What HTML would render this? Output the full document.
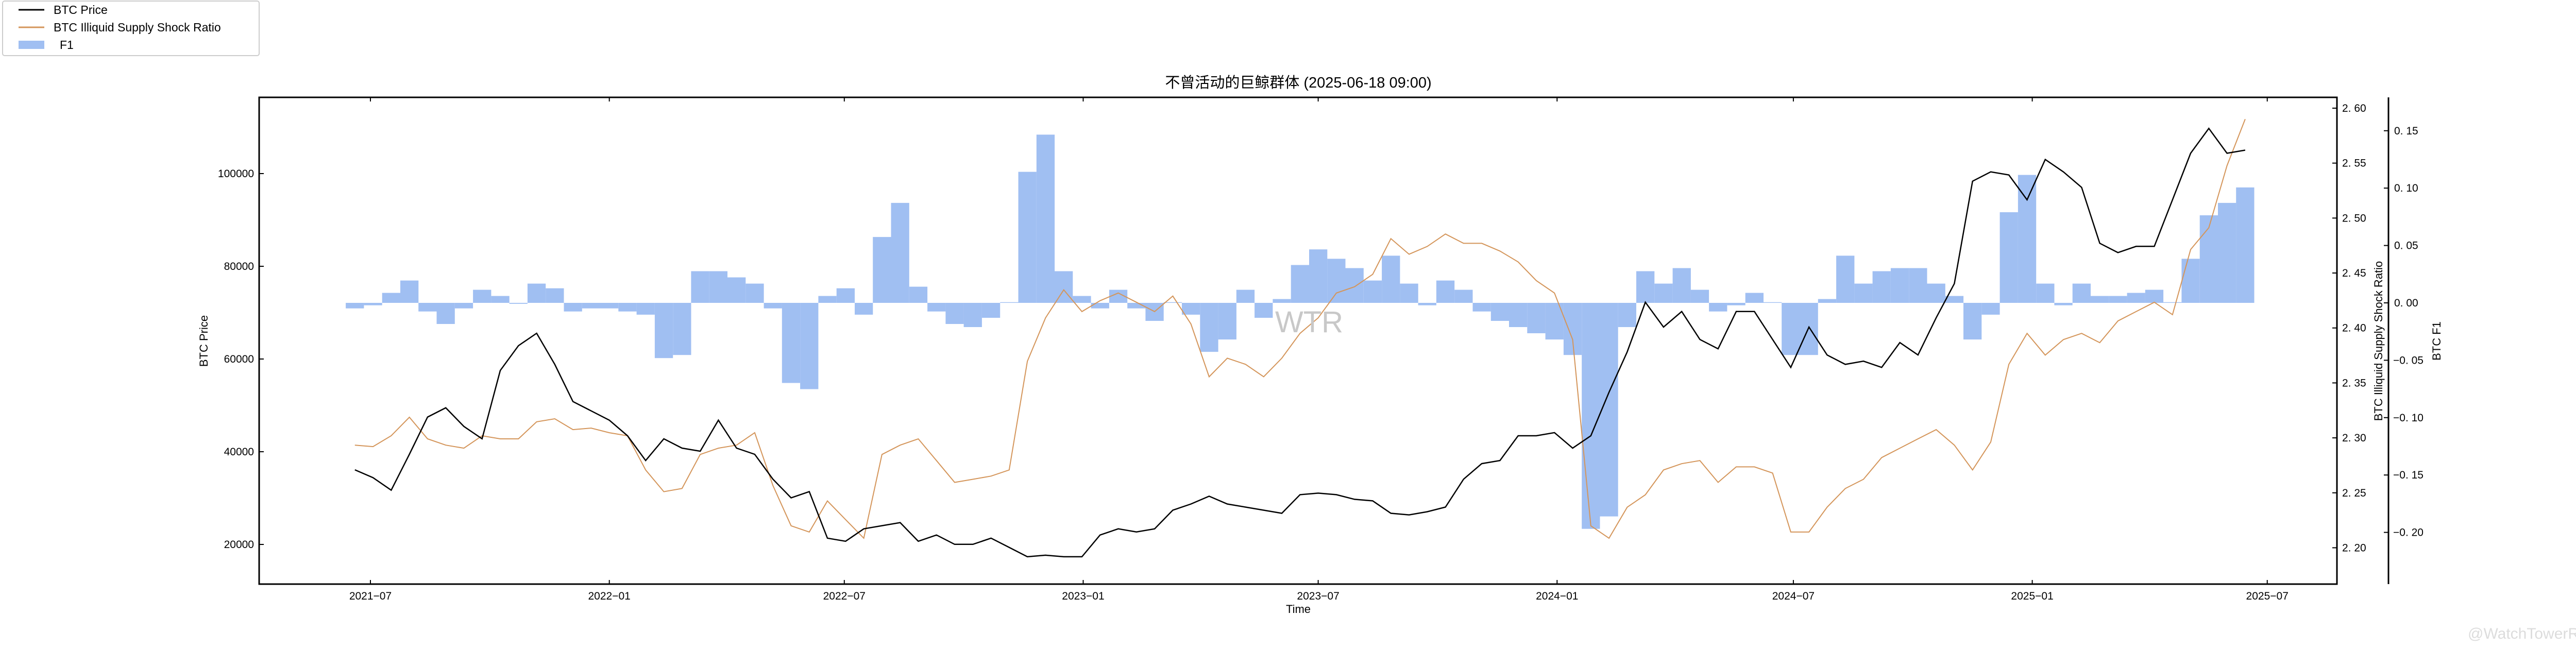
<!DOCTYPE html>
<html><head><meta charset="utf-8"><style>
html,body{margin:0;padding:0;background:#fff;}
svg{display:block;}
text{font-family:"Liberation Sans","Noto Sans CJK SC",sans-serif;}
.nar{font-family:"Liberation Sans Narrow","Liberation Sans","Noto Sans CJK SC",sans-serif;}
</style></head>
<body>
<svg id="chart" width="5040" height="1260" viewBox="0 0 5040 1260" xmlns="http://www.w3.org/2000/svg">
<rect x="0" y="0" width="5040" height="1260" fill="#fff"/>
<g id="bars"></g>
<g id="lines"></g>
<g id="axes"></g>
<text x="2475" y="645" font-size="58" fill="#c8c8c8">WTR</text>
<text x="4790" y="1240" font-size="30" fill="#dcdcdc">@WatchTowerR</text>
<text class="nar" x="2520" y="170" font-size="29" text-anchor="middle" fill="#000">不曾活动的巨鲸群体 (2025-06-18 09:00)</text>
<g>
<rect x="5" y="2" width="498" height="106" fill="#fff" stroke="#ccc" stroke-width="2" rx="4"/>
<line x1="36" y1="19" x2="86" y2="19" stroke="#000" stroke-width="3"/>
<text class="nar" x="104" y="27" font-size="23">BTC Price</text>
<line x1="36" y1="53" x2="86" y2="53" stroke="#d4955a" stroke-width="3"/>
<text class="nar" x="104" y="61" font-size="23">BTC Illiquid Supply Shock Ratio</text>
<rect x="36" y="79" width="50" height="16" fill="#a0bff2"/>
<text class="nar" x="116" y="95" font-size="23">F1</text>
</g>
</svg>
<script>
const startDate = "2021-06-19";
const stepDays = 14;
const priceValues = [36100,34400,31700,39440,47475,49480,45460,42790,57520,62880,65550,58850,50820,48810,46800,43450,38100,42790,40780,40110,46800,40780,39440,34080,30060,31400,21360,20690,23370,24040,24710,20690,22030,20020,20020,21360,19350,17340,17680,17340,17340,22030,23370,22700,23370,27390,28720,30400,28720,28060,27390,26720,30730,31070,30730,29730,29400,26720,26380,27050,28060,34080,37430,38100,43450,43450,44120,40780,43450,52830,61540,72250,66890,70240,64210,62200,70240,70240,64210,58190,66890,60870,58850,59530,58190,63540,60870,68900,76270,98360,100370,99700,94350,103050,100370,97020,84970,82960,84300,84300,94350,104390,109750,104390,105060];
const ratioValues = [2.2934,2.2920,2.3019,2.3188,2.2991,2.2934,2.2906,2.3019,2.2991,2.2991,2.3146,2.3174,2.3075,2.3089,2.3047,2.3019,2.2708,2.2510,2.2539,2.2849,2.2906,2.2934,2.3047,2.2567,2.2200,2.2143,2.2426,2.2256,2.2087,2.2849,2.2934,2.2991,2.2793,2.2595,2.2623,2.2652,2.2708,2.3697,2.4092,2.4347,2.4149,2.4248,2.4318,2.4234,2.4149,2.4290,2.4036,2.3556,2.3725,2.3669,2.3556,2.3725,2.3951,2.4092,2.4318,2.4375,2.4488,2.4813,2.4671,2.4742,2.4855,2.4770,2.4770,2.4700,2.4601,2.4431,2.4318,2.3894,2.2200,2.2087,2.2369,2.2482,2.2708,2.2765,2.2793,2.2595,2.2736,2.2736,2.2680,2.2143,2.2143,2.2369,2.2539,2.2623,2.2821,2.2906,2.2991,2.3075,2.2934,2.2708,2.2962,2.3669,2.3951,2.3753,2.3894,2.3951,2.3866,2.4064,2.4149,2.4234,2.4121,2.4714,2.4912,2.5477,2.5900];
const f1Values = [-0.0048,-0.0021,0.0087,0.0195,-0.0075,-0.0184,-0.0048,0.0114,0.0060,-0.0008,0.0168,0.0127,-0.0075,-0.0048,-0.0048,-0.0075,-0.0103,-0.0481,-0.0454,0.0276,0.0276,0.0222,0.0168,-0.0048,-0.0698,-0.0752,0.0060,0.0127,-0.0103,0.0574,0.0871,0.0141,-0.0075,-0.0184,-0.0211,-0.0130,0.0006,0.1142,0.1466,0.0276,0.0060,-0.0048,0.0114,-0.0048,-0.0157,0.0006,-0.0103,-0.0427,-0.0319,0.0114,-0.0130,0.0033,0.0330,0.0466,0.0384,0.0303,0.0195,0.0411,0.0168,-0.0021,0.0195,0.0114,-0.0075,-0.0157,-0.0211,-0.0265,-0.0319,-0.0454,-0.1969,-0.1861,-0.0211,0.0276,0.0168,0.0303,0.0114,-0.0075,-0.0021,0.0087,0.0006,-0.0454,-0.0454,0.0033,0.0411,0.0168,0.0276,0.0303,0.0303,0.0168,0.0060,-0.0319,-0.0103,0.0790,0.1115,0.0168,-0.0021,0.0168,0.0060,0.0060,0.0087,0.0114,0.0006,0.0384,0.0763,0.0871,0.1006];
const xTickLabels = ["2021-07","2022-01","2022-07","2023-01","2023-07","2024-01","2024-07","2025-01","2025-07"];
const priceTicks = [20000,40000,60000,80000,100000];
const ratioTicks = [2.20,2.25,2.30,2.35,2.40,2.45,2.50,2.55,2.60];
const f1Ticks = [-0.20,-0.15,-0.10,-0.05,0.00,0.05,0.10,0.15];

const NS="http://www.w3.org/2000/svg";
const L=503,R=4536,T=189,B=1134,F1X=4636;
const day0=Date.UTC(2021,6,1);
function dayOf(s){const p=s.split("-").map(Number);return (Date.UTC(p[0],p[1]-1,p[2]||1)-day0)/86400000;}
function xDay(d){return 719+d*2.52;}
function yPrice(v){return 337+(100000-v)*180/20000;}
function yRatio(r){return 210+(2.60-r)*2133.6;}
function yF1(f){return 588-f*2228;}
function mk(tag,attrs,parent){const e=document.createElementNS(NS,tag);for(const k in attrs)e.setAttribute(k,attrs[k]);parent.appendChild(e);return e;}
const s0=dayOf(startDate);
const dayAt=i=>s0+i*stepDays;
const bw=stepDays*2.52;

const gb=document.getElementById("bars");
f1Values.forEach((f,i)=>{
  const x=xDay(dayAt(i)), y0=yF1(0), y1=yF1(f);
  const r=mk("rect",{x:(x-bw/2).toFixed(1),y:Math.min(y0,y1).toFixed(1),width:bw.toFixed(1),height:Math.max(1,Math.abs(y1-y0)).toFixed(1),fill:"#a0bff2"},gb);
  
  
});
const gl=document.getElementById("lines");
const rp=mk("path",{d:ratioValues.map((v,i)=>(i?"L":"M")+xDay(dayAt(i)).toFixed(1)+","+yRatio(v).toFixed(1)).join(""),fill:"none",stroke:"#d4955a","stroke-width":2},gl);


const pp=mk("path",{d:priceValues.map((v,i)=>(i?"L":"M")+xDay(dayAt(i)).toFixed(1)+","+yPrice(v).toFixed(1)).join(""),fill:"none",stroke:"#000","stroke-width":2.5},gl);



const ga=document.getElementById("axes");
const fr=mk("rect",{x:L,y:T,width:R-L,height:B-T,fill:"none",stroke:"#000","stroke-width":3},ga);


const sp=mk("line",{x1:F1X,y1:T,x2:F1X,y2:B,stroke:"#000","stroke-width":3},ga);


xTickLabels.forEach(s=>{
  const x=xDay(dayOf(s));
  mk("line",{x1:x,y1:B,x2:x,y2:B-8,stroke:"#000","stroke-width":2},ga);
  mk("line",{x1:x,y1:T,x2:x,y2:T+8,stroke:"#000","stroke-width":2},ga);
  const t=mk("text",{x:x,y:B+30,"font-size":21,"text-anchor":"middle"},ga);t.textContent=s.replace("-","\u2212");
  
  
});
priceTicks.forEach(v=>{
  const y=yPrice(v);
  mk("line",{x1:L,y1:y,x2:L+9,y2:y,stroke:"#000","stroke-width":2},ga);
  const t=mk("text",{x:L-10,y:y+7,"font-size":21,"text-anchor":"end"},ga);t.textContent=v;
  
  
});
ratioTicks.forEach(v=>{
  const y=yRatio(v);
  mk("line",{x1:R-9,y1:y,x2:R,y2:y,stroke:"#000","stroke-width":2},ga);
  const t=mk("text",{x:R+10,y:y+7,"font-size":21},ga);t.textContent=v.toFixed(2).replace(".",". ");
  
  
});
f1Ticks.forEach(v=>{
  const y=yF1(v);
  mk("line",{x1:F1X-9,y1:y,x2:F1X,y2:y,stroke:"#000","stroke-width":2},ga);
  const t=mk("text",{x:v<0?F1X+9:F1X+11,y:y+7,"font-size":21},ga);t.textContent=(v<0?"\u2212":"")+Math.abs(v).toFixed(2).replace(".",". ");
  
  
});
function vlab(txt,x,y,name){const t=mk("text",{x:x,y:y,"font-size":22,"text-anchor":"middle",transform:"rotate(-90 "+x+" "+y+")","class":"nar"},ga);t.textContent=txt;
  
  }
vlab("BTC Price",403,662,"y-axis-title-price");
vlab("BTC Illiquid Supply Shock Ratio",4624,662,"y-axis-title-ratio");
vlab("BTC F1",4737,662,"y-axis-title-f1");
const xt=mk("text",{x:2520,y:1190,"font-size":22,"text-anchor":"middle","class":"nar"},ga);xt.textContent="Time";


</script>
</body></html>
